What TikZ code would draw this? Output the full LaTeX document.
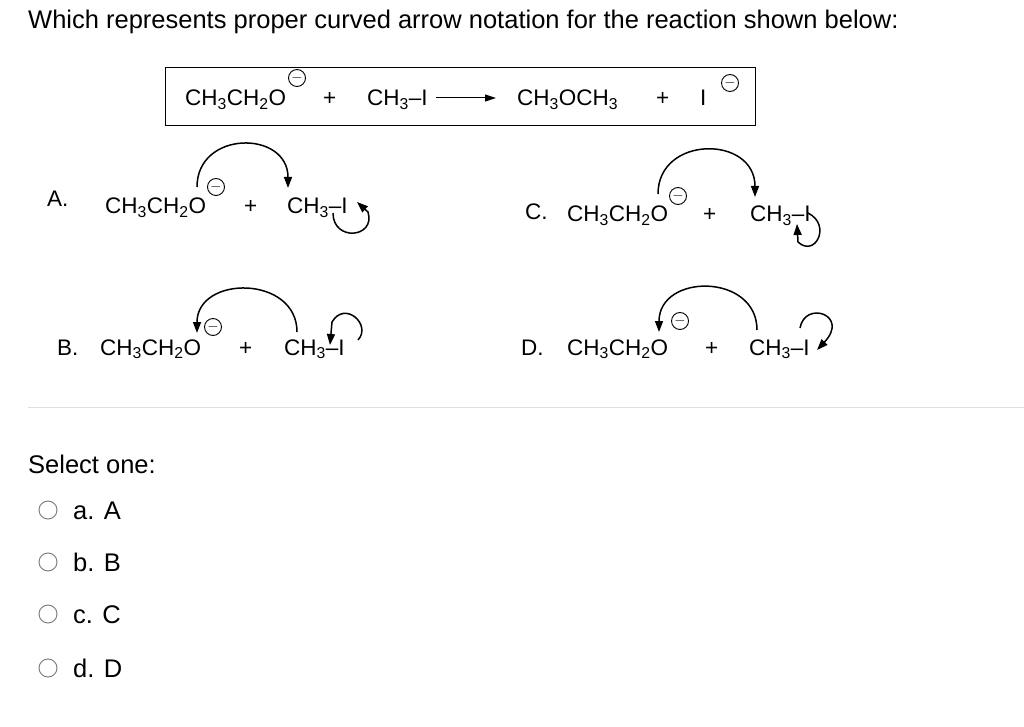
\documentclass[tikz,border=0pt]{standalone}
\usepackage{fontspec}
\setmainfont{Liberation Sans}
\usetikzlibrary{arrows.meta}
\tikzset{
  t/.style={anchor=base west,inner sep=0pt,font=\fontsize{25.5}{30}\selectfont},
  c/.style={anchor=base west,inner sep=0pt,font=\fontsize{22.5}{26}\selectfont},
  neg/.style={draw,circle,minimum size=17pt,inner sep=0pt,line width=0.9pt,font=\fontsize{15}{15}\selectfont},
  ca/.style={line width=1.5pt,-{Triangle[length=11pt,width=8pt]}},
  radio/.style={draw=gray,circle,minimum size=18pt,inner sep=0pt,line width=1pt}
}
\begin{document}
\begin{tikzpicture}[x=1pt,y=-1pt]
\useasboundingbox (0,0) rectangle (1024,727);
\node[t] (title) at (28,29) {Which represents proper curved arrow notation for the reaction shown below:};
% box
\draw[line width=1pt] (165,68) rectangle (755,126);
\node[c] (r1) at (185,106) {CH\textsubscript{3}CH\textsubscript{2}O};
\node[neg] (n1) at (297,78) {$-$};
\node[c] (p1) at (323,106) {+};
\node[c] (r2) at (367,106) {CH\textsubscript{3}–I};
\coordinate (a1) at (436,98); \coordinate (a2) at (496,98);
\draw[line width=1pt,-{Triangle[length=11pt,width=7pt]}] (a1) -- (a2);
\node[c] (pr1) at (517,106) {CH\textsubscript{3}OCH\textsubscript{3}};
\node[c] (p2) at (656,106) {+};
\node[c] (pr2) at (700,106) {I};
\node[neg] (n2) at (730,83) {$-$};
% A
\node[c] (lA) at (47,207) {A.};
\node[c] (A1) at (105,214) {CH\textsubscript{3}CH\textsubscript{2}O};
\node[neg] (An) at (216,187) {$-$};
\node[c] (Ap) at (244,214) {+};
\node[c] (A2) at (287,214) {CH\textsubscript{3}–I};
\coordinate (As) at (197,187); \coordinate (Ae) at (288,188);
\draw[ca] (As) .. controls (197,130) and (288,130) .. (Ae);
\coordinate (Ab) at (333,213); \coordinate (Ai) at (357,202);
\draw[ca] (Ab) .. controls (333,242) and (376,238) .. (368,212) -- (Ai);
% C
\node[c] (lC) at (525,220) {C.};
\node[c] (C1) at (567,222) {CH\textsubscript{3}CH\textsubscript{2}O};
\node[neg] (Cn) at (678,196) {$-$};
\node[c] (Cp) at (703,222) {+};
\node[c] (C2) at (750,222) {CH\textsubscript{3}–I};
\coordinate (Cs) at (658,194); \coordinate (Ce) at (755,197);
\draw[ca] (Cs) .. controls (658,135) and (755,135) .. (Ce);
\coordinate (Cb) at (797,224); \coordinate (Cr) at (808,213);
\draw[ca] (Cr) .. controls (832,225) and (815,258) .. (798,242) -- (Cb);
% B
\node[c] (B1) at (57,355) {B.};
\node[c] (B1m) at (100,355) {CH\textsubscript{3}CH\textsubscript{2}O};
\node[neg] (Bn) at (213,327) {$-$};
\node[c] (Bp) at (239,355) {+};
\node[c] (B2) at (284,355) {CH\textsubscript{3}–I};
\coordinate (Bs) at (297,332); \coordinate (Be) at (197,333);
\draw[ca] (Bs) .. controls (297,275) and (197,275) .. (Be);
\coordinate (Br) at (358,340); \coordinate (Bb) at (330,345);
\draw[ca] (Br) .. controls (372,325) and (345,300) .. (332,322) -- (Bb);
% D
\node[c] (lD) at (521,355) {D.};
\node[c] (D1) at (567,355) {CH\textsubscript{3}CH\textsubscript{2}O};
\node[neg] (Dn) at (680,321) {$-$};
\node[c] (Dp) at (705,355) {+};
\node[c] (D2) at (749,355) {CH\textsubscript{3}–I};
\coordinate (Ds) at (757,330); \coordinate (De) at (659,332);
\draw[ca] (Ds) .. controls (757,273) and (659,273) .. (De);
\coordinate (Dt) at (800,328); \coordinate (Dr) at (817,350);
\draw[ca] (Dt) .. controls (805,300) and (850,315) .. (Dr);
% rule
\draw[gray!25,line width=0.8pt] (28,407) -- (1024,407);
\node[t] (sel) at (28,473) {Select one:};
\foreach \y/\l/\n in {510/a. A/ra,562/b. B/rb,614/c. C/rc,668/d. D/rd}{
  \node[radio] (\n) at (48,\y) {};
  \node[t] (\n l) at (73,\y+9) {\l};
}
\end{tikzpicture}
\end{document}
